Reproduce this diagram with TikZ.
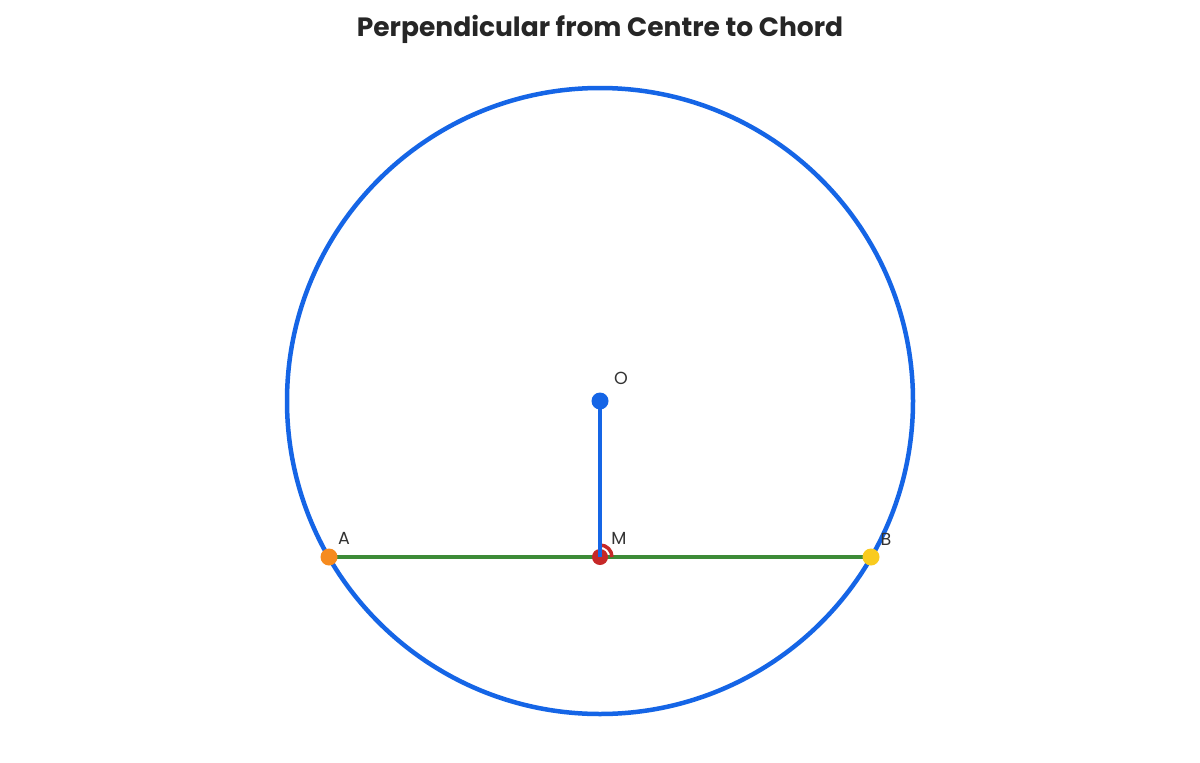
\documentclass[tikz,border=0pt]{standalone}
\usepackage{fontspec}
\setmainfont{Poppins}
\begin{document}
\begin{tikzpicture}[x=1pt,y=-1pt,
  dotnode/.style={circle,inner sep=0pt,minimum size=17pt},
  lbl/.style={font=\fontsize{17.5}{20}\selectfont\color{black!80}},
  seg/.style={line width=4.5pt}]
\definecolor{cblue}{RGB}{21,101,230}
\definecolor{cgreen}{RGB}{61,139,55}
\definecolor{corange}{RGB}{246,139,30}
\definecolor{cyellow}{RGB}{249,203,30}
\definecolor{cred}{RGB}{198,40,40}
\useasboundingbox (0,0) rectangle (1200,763);
\fill[white] (0,0) rectangle (1200,763);
\node[font=\bfseries\fontsize{26.5}{30}\selectfont,text=black!85] (title) at (600,29) {Perpendicular from Centre to Chord};
\coordinate (Oc) at (600,401);
\draw[cblue,line width=4.5pt] (Oc) circle[radius=313];
\coordinate (Ac) at (329,557);
\coordinate (Bc) at (871,557);
\coordinate (Mc) at (600,557);
\draw[seg,cgreen] (Ac) -- (Bc);
\draw[cred,line width=3.5pt] ([xshift=12pt]Mc) arc[start angle=0,end angle=-90,radius=12];
\node[dotnode,fill=cred,minimum size=16pt] (M) at (Mc) {};
\draw[seg,cblue] (Oc) -- (M.center);
\node[dotnode,fill=cblue] (O) at (Oc) {};
\node[dotnode,fill=corange] (A) at (Ac) {};
\node[dotnode,fill=cyellow] (B) at (Bc) {};
\node[lbl] at (621,378) {O};
\node[lbl] at (344,538) {A};
\node[lbl] at (886,539) {B};
\node[lbl] at (619,538) {M};
\end{tikzpicture}
\end{document}
